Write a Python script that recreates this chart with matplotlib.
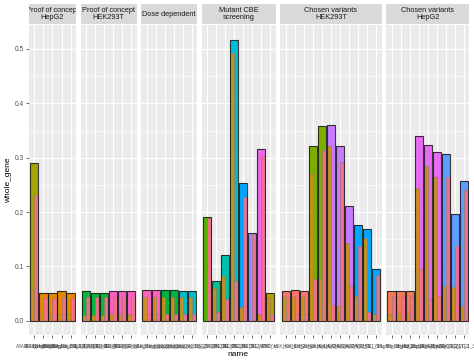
import numpy as np
import matplotlib
matplotlib.use("Agg")
import matplotlib.pyplot as plt

plt.rcParams['font.family'] = ['Liberation Sans', 'DejaVu Sans']

# facets (left to right)
facet_titles = ["Proof of concept\nHepG2", "Proof of concept\nHEK293T", "Dose dependent",
                "Mutant CBE\nscreening", "Chosen variants\nHEK293T", "Chosen variants\nHepG2"]

names = [
    ["A3A-BE3_HepG2", "BE4max_HepG2_1", "BE4max_HepG2_2", "BE4max_HepG2_3", "BE4max_HepG2_4"],
    ["BE3_HEK_1", "BE3_HEK_2", "BE3_HEK_3", "YE1-BE4_HEK_1", "YE1-BE4_HEK_2", "YE1-BE4_HEK_3"],
    ["dose_50ng_1", "dose_50ng_2", "dose_200ng_1", "dose_200ng_2", "dose_800ng_1", "dose_800ng_2"],
    ["CBE_W90Y", "CBE_R126E", "CBE_R132E", "CBE_H122A", "CBE_N57G", "CBE_Y130F", "CBE_W98Y", "CBE_wt"],
    ["HEK_ctrl_1", "HEK_ctrl_2", "HEK_ctrl_3", "HEK_evoA_1", "HEK_evoA_2", "HEK_eA3A_1",
     "HEK_eA3A_2", "HEK_eA3A_3", "HEK_YE1_1", "HEK_YE1_2", "HEK_YE1_3"],
    ["HepG2_ctrl_1", "HepG2_ctrl_2", "HepG2_ctrl_3", "HepG2_eA3A_1", "HepG2_eA3A_2",
     "HepG2_eA3A_3", "HepG2_YE1_1", "HepG2_YE1_2", "G2_YE1_3"],
]

editor = [
    ["A3A", "BE4max", "BE4max", "BE4max", "BE4max"],
    ["BE3", "BE3", "BE3", "YE1", "YE1", "YE1"],
    ["d50", "d50", "d200", "d200", "d800", "d800"],
    ["W90Y", "R126E", "R132E", "H122A", "N57G", "Y130F", "W98Y", "wt"],
    ["ctrl", "ctrl", "ctrl", "evoA", "evoA", "eA3A", "eA3A", "eA3A", "YE1h", "YE1h", "YE1h"],
    ["ctrlG", "ctrlG", "ctrlG", "eA3AG", "eA3AG", "eA3AG", "YE1G", "YE1G", "YE1G"],
]

whole_gene = [
    [0.290, 0.052, 0.052, 0.055, 0.052],
    [0.054, 0.052, 0.052, 0.055, 0.054, 0.054],
    [0.057, 0.056, 0.056, 0.057, 0.055, 0.055],
    [0.191, 0.074, 0.122, 0.517, 0.254, 0.161, 0.316, 0.052],
    [0.055, 0.056, 0.055, 0.322, 0.359, 0.360, 0.322, 0.211, 0.177, 0.168, 0.096],
    [0.054, 0.054, 0.055, 0.339, 0.324, 0.310, 0.307, 0.197, 0.258],
]

exon_part = [
    [0.058, 0.012, 0.012, 0.013, 0.012],
    [0.011, 0.011, 0.011, 0.012, 0.012, 0.012],
    [0.044, 0.043, 0.043, 0.044, 0.043, 0.043],
    [0.000, 0.060, 0.083, 0.492, 0.026, 0.000, 0.013, 0.042],
    [0.043, 0.043, 0.043, 0.272, 0.077, 0.322, 0.028, 0.144, 0.046, 0.153, 0.013],
    [0.012, 0.012, 0.012, 0.244, 0.284, 0.265, 0.065, 0.062, 0.028],
]

intron_part = [
    [0.232, 0.042, 0.042, 0.044, 0.042],
    [0.044, 0.043, 0.043, 0.045, 0.044, 0.044],
    [0.013, 0.013, 0.013, 0.013, 0.012, 0.012],
    [0.190, 0.016, 0.040, 0.074, 0.227, 0.160, 0.303, 0.013],
    [0.012, 0.012, 0.012, 0.077, 0.315, 0.030, 0.293, 0.065, 0.138, 0.016, 0.084],
    [0.045, 0.045, 0.045, 0.095, 0.040, 0.046, 0.265, 0.138, 0.241],
]

palette = {
    "A3A": "#A3A500", "BE4max": "#E58700", "BE3": "#00BA38", "YE1": "#FF61C3",
    "d50": "#FF62BC", "d200": "#00B440", "d800": "#00BCC8",
    "W90Y": "#53B400", "R126E": "#00C094", "R132E": "#00C0AF", "H122A": "#00BCD8",
    "N57G": "#00A5FF", "Y130F": "#8F91FF", "W98Y": "#EE67EC", "wt": "#B5A000",
    "ctrl": "#F8766D", "evoA": "#7CAE00", "eA3A": "#C77CFF", "YE1h": "#00A9FF",
    "ctrlG": "#F37B52", "eA3AG": "#E76BF3", "YE1G": "#619CFF",
}

W, H = 474, 361
fig = plt.figure(figsize=(W / 100, H / 100), dpi=100)

u = 9.03        # px per category
gap = 4.6
x0 = 29.0
panel_top, panel_bot = 25.0, 335.0
strip_top = 4.0

ylo, yhi = -0.026, 0.544
for k, title in enumerate(facet_titles):
    n = len(names[k])
    wpx = (n + 0.2) * u
    ax = fig.add_axes([x0 / W, 1 - panel_bot / H, wpx / W, (panel_bot - panel_top) / H])
    sax = fig.add_axes([x0 / W, 1 - (panel_top - 1) / H, wpx / W, (panel_top - 1 - strip_top) / H])
    x0 += wpx + gap

    ax.set_facecolor("#EBEBEB")
    x = np.arange(n)
    fills = [palette[e] for e in editor[k]]
    ax.bar(x, whole_gene[k], width=0.9, color=fills, linewidth=0, zorder=2)
    ax.bar(x - 0.225, exon_part[k], width=0.45, color="#C9901C", alpha=0.95,
           edgecolor="#8c7a55", linewidth=0.4, zorder=3)
    ax.bar(x + 0.225, intron_part[k], width=0.45, color="#F2718F", alpha=0.95,
           edgecolor="#9c7070", linewidth=0.4, zorder=3)
    ax.bar(x, whole_gene[k], width=0.9, color="none", edgecolor="#1a1a1a",
           linewidth=0.8, alpha=0.85, zorder=4)

    ax.set_xlim(-0.6, n - 0.4)
    ax.set_ylim(ylo, yhi)
    ax.set_xticks(x)
    ax.set_xticklabels(names[k], fontsize=3.3, color="#4D4D4D")
    ax.set_yticks([0.0, 0.1, 0.2, 0.3, 0.4, 0.5])
    ax.set_yticks([0.05, 0.15, 0.25, 0.35, 0.45], minor=True)
    ax.grid(True, which="major", color="white", linewidth=0.8, zorder=0)
    ax.grid(True, which="minor", axis="y", color="white", linewidth=0.4, zorder=0)
    ax.set_axisbelow(True)
    ax.tick_params(axis="x", length=2.2, width=0.5, color="#333333", pad=4)
    ax.tick_params(axis="y", which="major", length=2.2, width=0.5, color="#333333",
                   labelsize=4.8, labelcolor="#4D4D4D", pad=1.5)
    ax.tick_params(axis="y", which="minor", length=0)
    if k > 0:
        ax.tick_params(axis="y", which="major", length=0, labelleft=False)
    else:
        ax.set_ylabel("whole_gene", fontsize=6, labelpad=2)
    for s in ax.spines.values():
        s.set_visible(False)

    sax.set_facecolor("#D9D9D9")
    sax.set_xticks([])
    sax.set_yticks([])
    for s in sax.spines.values():
        s.set_visible(False)
    sax.text(0.5, 0.5, title, transform=sax.transAxes, ha="center", va="center",
             fontsize=5.3, color="#1A1A1A", linespacing=1.05, clip_on=True)

fig.text(238 / W, 1 - 354 / H, "name", ha="center", va="center", fontsize=6)

fig.savefig("out.png", dpi=100)
